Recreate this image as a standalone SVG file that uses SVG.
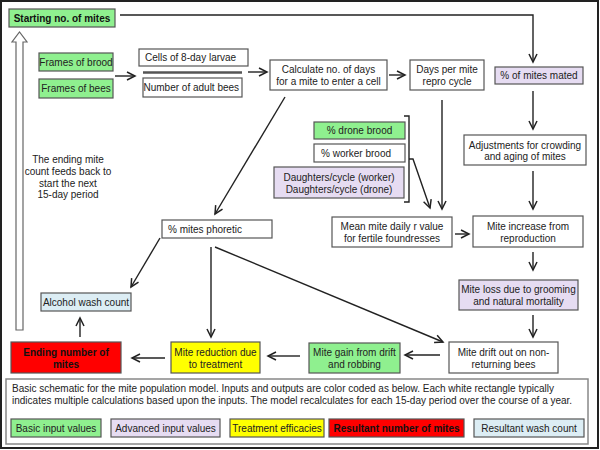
<svg xmlns="http://www.w3.org/2000/svg" width="600" height="450" viewBox="0 0 600 450">
<defs>
<marker id="ah" markerUnits="userSpaceOnUse" markerWidth="12" markerHeight="12" refX="9" refY="5" orient="auto" overflow="visible">
<path d="M1,1 L9,5 L1,9" fill="none" stroke="#222" stroke-width="1.5"/>
</marker>
<style>
text{font-family:"Liberation Sans",Arial,sans-serif;font-size:10px;fill:#222}
.c{text-anchor:middle}
.b{font-weight:bold;fill:#111}
.box{stroke:#555;stroke-width:1.2}
.w{fill:#fff}
.g{fill:#8ff08f}
.l{fill:#e6dcf2}
.y{fill:#ffff00}
.r{fill:#ff0000}
.lb{fill:#dcedf4}
.cn{fill:none;stroke:#222;stroke-width:1.4}
.ar{marker-end:url(#ah)}
</style>
</defs>
<rect x="0" y="0" width="600" height="450" fill="#fff"/>
<rect x="1" y="1" width="597" height="447" fill="none" stroke="#222" stroke-width="2"/>

<g id="feedback-arrow">
<polygon points="16,330 23,330 23,42 27,42 19.5,32 12,42 16,42" fill="#fff" stroke="#666" stroke-width="1.2"/>
</g>
<g id="feedback-text">
<text class="c" x="68" y="162.5">The ending mite</text>
<text class="c" x="68" y="174.5">count feeds back to</text>
<text class="c" x="68" y="186.5">start the next</text>
<text class="c" x="68" y="197.5">15-day period</text>
</g>

<g id="connectors">
<path class="cn ar" d="M120,15 H533 V62"/>
<path class="cn ar" d="M115,76 H135"/>
<path d="M143,72.5 H242" stroke="#555" stroke-width="2.5"/>
<path class="cn ar" d="M248,72 H267"/>
<path class="cn ar" d="M389,75 H405"/>
<path class="cn ar" d="M442,100 V209"/>
<path class="cn ar" d="M533,91 V129"/>
<path class="cn ar" d="M533,171 V209"/>
<path class="cn ar" d="M455,234 H469"/>
<path class="cn ar" d="M533,252 V270"/>
<path class="cn ar" d="M533,315 V337"/>
<path class="cn ar" d="M440,355 H405"/>
<path class="cn ar" d="M300,356 H268"/>
<path class="cn ar" d="M165,358 H132"/>
<path class="cn ar" d="M80,337 V318"/>
<path class="cn ar" d="M285,97 L215,214"/>
<path class="cn ar" d="M160,238 L131,287"/>
<path class="cn ar" d="M211,247 V337"/>
<path class="cn ar" d="M215,247 L443,342"/>
<path class="cn" d="M404,116 H409 V202 H404"/>
<path class="cn ar" d="M409,159 H413 L430,208"/>
</g>

<g id="starting-mites"><rect class="box g" x="9" y="9" width="106" height="18"/><text class="c b" x="62" y="21.5">Starting no. of mites</text></g>
<g id="frames-brood"><rect class="box g" x="39" y="53" width="74" height="18"/><text class="c" x="76" y="65.5">Frames of brood</text></g>
<g id="frames-bees"><rect class="box g" x="39" y="79" width="74" height="19"/><text class="c" x="76" y="92">Frames of bees</text></g>
<g id="cells-larvae"><rect class="box w" x="139" y="49" width="109" height="17"/><text x="145" y="61">Cells of 8-day larvae</text></g>
<g id="adult-bees"><rect class="box w" x="143" y="78" width="99" height="19"/><text x="143.5" y="91">Number of adult bees</text></g>
<g id="calc-days"><rect class="box w" x="270" y="60" width="117" height="30"/><text class="c" x="328.5" y="72.5">Calculate no. of days</text><text class="c" x="328.5" y="84.5">for a mite to enter a cell</text></g>
<g id="days-repro"><rect class="box w" x="410" y="60" width="74" height="30"/><text class="c" x="447" y="72.5">Days per mite</text><text class="c" x="447" y="84.5">repro cycle</text></g>
<g id="mites-mated"><rect class="box l" x="495" y="67" width="88" height="17"/><text class="c" x="539" y="79">% of mites mated</text></g>
<g id="adjustments"><rect class="box w" x="464" y="135" width="122" height="30"/><text class="c" x="525" y="148.5">Adjustments  for crowding</text><text class="c" x="525" y="159.5">and aging of mites</text></g>
<g id="drone-brood"><rect class="box g" x="314" y="122" width="91" height="17"/><text class="c" x="359.5" y="134">% drone brood</text></g>
<g id="worker-brood"><rect class="box w" x="314" y="144" width="91" height="18"/><text x="321" y="156.5">% worker brood</text></g>
<g id="daughters"><rect class="box l" x="274" y="167" width="130" height="31"/><text class="c" x="339" y="180.5">Daughters/cycle (worker)</text><text class="c" x="339" y="192.5">Daughters/cycle (drone)</text></g>
<g id="mean-r"><rect class="box w" x="332" y="217" width="120" height="30"/><text class="c" x="392" y="229.5">Mean mite daily r value</text><text class="c" x="392" y="241.5">for fertile foundresses</text></g>
<g id="mite-increase"><rect class="box w" x="473" y="216" width="110" height="31"/><text class="c" x="528" y="229.5">Mite  increase from</text><text class="c" x="528" y="241.5">reproduction</text></g>
<g id="phoretic"><rect class="box w" x="162" y="220" width="110" height="18"/><text x="168" y="232.5">% mites phoretic</text></g>
<g id="mite-loss"><rect class="box l" x="459" y="280" width="119" height="30"/><text class="c" x="518.5" y="292.5">Mite loss due  to grooming</text><text class="c" x="518.5" y="304.5">and natural mortality</text></g>
<g id="mite-drift"><rect class="box w" x="449" y="342" width="109" height="31"/><text class="c" x="503.5" y="355.5">Mite  drift out on non-</text><text class="c" x="503.5" y="367.5">returning bees</text></g>
<g id="mite-gain"><rect class="box g" x="309" y="343" width="91" height="30"/><text class="c" x="354.5" y="355.5">Mite gain from drift</text><text class="c" x="354.5" y="367.5">and robbing</text></g>
<g id="mite-reduction"><rect class="box y" x="171" y="342" width="89" height="31"/><text class="c" x="215.5" y="355.5">Mite  reduction due</text><text class="c" x="215.5" y="367.5">to treatment</text></g>
<g id="ending-mites"><rect class="box r" x="11" y="342" width="110" height="31"/><text class="c b" x="66" y="355.5">Ending number of</text><text class="c b" x="66" y="367.5">mites</text></g>
<g id="alcohol-wash"><rect class="box lb" x="41" y="293" width="90" height="18"/><text class="c" x="86" y="305.5">Alcohol wash  count</text></g>

<g id="legend">
<rect x="6" y="379" width="582" height="65" fill="#fff" stroke="#888" stroke-width="1.5"/>
<text x="12" y="392">Basic schematic for the mite population model.  Inputs and outputs are color coded as below. Each white rectangle typically</text>
<text x="12" y="403.5">indicates multiple  calculations based upon the inputs.  The model recalculates for each 15-day period over the course of a year.</text>
<g id="legend-basic"><rect class="box g" x="11" y="419" width="90" height="18"/><text class="c" x="56" y="431.5">Basic input values</text></g>
<g id="legend-advanced"><rect class="box l" x="111" y="419" width="109" height="18"/><text class="c" x="165.5" y="431.5">Advanced  input values</text></g>
<g id="legend-treatment"><rect class="box y" x="230" y="419" width="94" height="18"/><text class="c" x="277" y="431.5">Treatment  efficacies</text></g>
<g id="legend-resultant"><rect class="box r" x="329" y="419" width="135" height="18"/><text class="c b" x="396.5" y="431.5">Resultant number of mites</text></g>
<g id="legend-wash"><rect class="box lb" x="474" y="419" width="110" height="18"/><text class="c" x="529" y="431.5">Resultant  wash count</text></g>
</g>
</svg>
